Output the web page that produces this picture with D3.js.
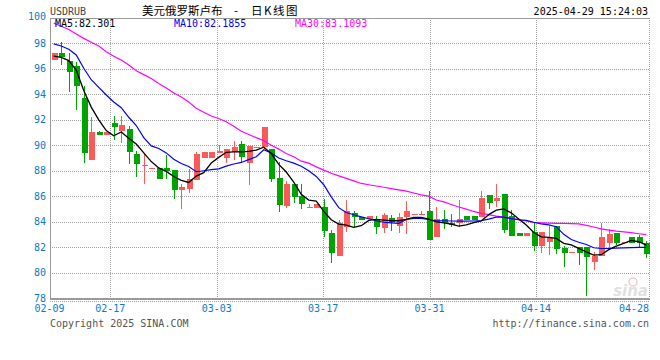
<!DOCTYPE html>
<html>
<head>
<meta charset="utf-8">
<script src="https://cdn.jsdelivr.net/npm/d3@7/dist/d3.min.js"></script>
<style>
  body { margin: 0; background: #fff; }
  svg { display: block; }
  .mono { font-family: "DejaVu Sans Mono", monospace; }
</style>
</head>
<body>
<div id="chart"></div>
<script>
// daily candles 2025-02-09 .. 2025-04-29
const dates = d3.timeDay.range(new Date(2025, 1, 9), new Date(2025, 3, 30));

const opens = [96.72, 97.24, 96.61, 96.22, 93.70, 88.86, 91.03, 90.82, 91.74, 91.11,
  91.27, 89.28, 88.36, 88.20, 88.23, 88.23, 88.05, 86.50, 86.60, 87.31,
  89.02, 89.02, 89.41, 89.02, 89.44, 90.09, 88.62, 89.75, 89.85, 89.70,
  87.42, 85.25, 86.95, 86.00, 85.10, 85.09, 85.17, 83.12, 81.32, 83.59,
  84.64, 84.38, 84.17, 84.17, 83.52, 84.25, 83.67, 84.33, 84.54, 84.54,
  84.83, 82.78, 84.17, 83.88, 83.86, 84.43, 84.43, 84.38, 86.08, 85.64,
  86.16, 84.46, 83.10, 82.89, 83.15, 82.10, 82.42, 83.65, 81.89, 81.50,
  81.97, 81.97, 80.84, 81.32, 82.29, 83.07, 82.34, 82.76, 82.76, 82.29];
const highs = [97.24, 98.10, 97.27, 96.53, 94.65, 92.24, 91.14, 91.03, 92.29, 92.29,
  91.53, 89.54, 89.30, 88.25, 88.23, 89.25, 88.05, 86.95, 88.15, 89.46,
  89.46, 89.46, 90.01, 89.70, 90.33, 90.33, 89.93, 89.83, 91.43, 89.70,
  88.70, 87.18, 86.95, 86.95, 85.41, 85.38, 85.74, 83.33, 84.12, 85.69,
  84.83, 84.38, 84.43, 84.43, 84.69, 84.51, 84.69, 85.61, 84.62, 84.83,
  86.40, 85.17, 84.90, 84.62, 85.69, 84.43, 84.43, 86.40, 86.08, 86.95,
  86.16, 84.90, 83.10, 83.10, 83.86, 83.18, 83.65, 83.65, 82.10, 81.58,
  81.97, 81.97, 81.58, 83.86, 83.41, 83.07, 82.42, 82.76, 82.94, 82.47];
const lows = [96.72, 96.32, 94.20, 92.76, 88.62, 88.86, 90.82, 90.82, 90.40, 90.20,
  88.52, 87.52, 86.95, 88.20, 87.37, 87.37, 85.80, 84.98, 86.24, 87.31,
  89.02, 89.02, 89.36, 88.62, 88.86, 88.62, 86.90, 89.75, 89.67, 87.10,
  84.77, 85.09, 85.48, 84.98, 85.10, 85.09, 82.81, 80.77, 81.32, 83.15,
  83.54, 84.12, 84.17, 83.04, 83.12, 83.28, 83.12, 82.99, 84.54, 84.54,
  82.55, 82.78, 83.41, 83.54, 83.54, 84.12, 84.12, 84.38, 85.01, 85.17,
  83.12, 82.89, 82.89, 82.89, 81.71, 81.50, 81.37, 81.45, 80.45, 81.50,
  80.58, 78.17, 80.19, 81.32, 81.76, 82.15, 82.34, 82.29, 81.89, 81.16];
const closes = [97.24, 96.95, 95.77, 94.67, 89.41, 91.03, 90.82, 91.03, 91.45, 91.56,
  89.49, 88.54, 88.46, 88.25, 87.37, 88.00, 86.50, 86.74, 87.34, 89.30,
  89.46, 89.46, 89.54, 89.70, 89.85, 89.07, 89.93, 89.83, 91.43, 87.37,
  85.32, 86.95, 85.95, 85.35, 85.16, 85.38, 83.28, 81.55, 83.86, 84.83,
  84.38, 84.12, 84.43, 83.59, 84.51, 83.94, 84.38, 84.83, 84.62, 84.62,
  82.55, 84.20, 83.86, 83.75, 84.20, 84.12, 84.12, 85.87, 85.48, 85.87,
  83.33, 82.89, 82.89, 83.10, 82.10, 83.18, 82.81, 81.84, 81.50, 81.58,
  81.50, 81.24, 81.32, 82.76, 83.02, 82.36, 82.42, 82.29, 82.29, 81.42];

const ma5 = [97.00, 96.90, 96.65, 95.90, 94.30, 93.00, 92.00, 91.15, 90.75, 91.05,
  90.55, 90.10, 89.40, 88.72, 88.22, 87.95, 87.55, 87.25, 87.08, 87.58,
  87.85, 88.60, 89.05, 89.45, 89.48, 89.48, 89.52, 89.62, 89.85, 89.35,
  88.50, 87.90, 87.10, 86.15, 85.69, 85.62, 84.80, 84.15, 83.80, 83.73,
  83.55, 83.68, 84.10, 84.17, 84.12, 84.07, 84.07, 84.17, 84.33, 84.33,
  84.20, 83.99, 83.90, 83.80, 83.65, 83.75, 83.93, 84.05, 84.55, 84.90,
  85.00, 84.69, 84.20, 83.73, 83.15, 82.80, 82.77, 82.68, 82.30, 82.18,
  81.90, 81.62, 81.37, 81.40, 81.80, 82.07, 82.30, 82.52, 82.42, 82.16];
const ma10 = [97.97, 97.80, 97.55, 97.10, 96.05, 95.15, 94.55, 93.95, 93.40, 92.95,
  92.20, 91.55, 90.60, 89.95, 89.75, 89.40, 88.90, 88.57, 88.33, 87.92,
  88.00, 88.08, 88.15, 88.36, 88.53, 88.65, 88.87, 89.10, 89.65, 89.40,
  89.00, 88.78, 88.60, 88.35, 88.00, 87.55, 86.90, 85.95, 85.10, 84.72,
  84.54, 84.38, 84.23, 84.07, 83.95, 83.91, 83.87, 84.17, 84.25, 84.25,
  84.17, 84.07, 84.07, 84.05, 84.04, 84.04, 84.05, 84.08, 84.20, 84.35,
  84.36, 84.24, 84.15, 84.10, 83.95, 83.83, 83.74, 83.60, 83.00, 82.60,
  82.38, 82.20, 81.95, 81.89, 81.89, 81.92, 81.94, 81.96, 81.97, 81.97];
const ma30 = [99.60, 99.35, 99.10, 98.75, 98.40, 98.10, 97.80, 97.35, 97.00, 96.70,
  96.30, 95.85, 95.55, 95.25, 94.85, 94.50, 94.10, 93.80, 93.40, 92.90,
  92.60, 92.30, 92.10, 91.85, 91.50, 91.10, 90.85, 90.60, 90.35, 90.00,
  89.70, 89.35, 89.10, 88.75, 88.60, 88.30, 88.05, 87.80, 87.60, 87.40,
  87.20, 87.00, 86.90, 86.80, 86.70, 86.60, 86.50, 86.40, 86.25, 86.10,
  86.00, 85.70, 85.55, 85.35, 85.15, 84.98, 84.80, 84.65, 84.55, 84.43,
  84.35, 84.28, 84.15, 84.05, 83.93, 83.90, 83.88, 83.87, 83.86, 83.85,
  83.82, 83.70, 83.58, 83.43, 83.33, 83.25, 83.20, 83.13, 83.05, 82.98];

const yTicks = [78, 80, 82, 84, 86, 88, 90, 92, 94, 96, 98, 100];
const xTickLabels = ['02-09', '02-17', '03-03', '03-17', '03-31', '04-14', '04-28'];
const maLabels = [
  { text: 'MA5:82.301', color: '#000', x: 55 },
  { text: 'MA10:82.1855', color: '#0000ff', x: 174 },
  { text: 'MA30:83.1093', color: '#ff00ff', x: 295 }
];
const titleParts = [
  { text: '美元俄罗斯卢布', x: 142, anchor: 'start', spacing: 0 },
  { text: '-', x: 236, anchor: 'middle', spacing: 0 },
  { text: '日K线图', x: 251, anchor: 'start', spacing: 1.5 }
];

const W = 660, H = 360;
const plotLeft = 50, plotRight = 650, plotTop = 18, plotBottom = 298;
const UP = '#fb5a5a', DOWN = '#00a400', LABEL = '#0b7ac8', GRID = '#a0a0a0';

const svg = d3.select('#chart').append('svg')
  .attr('width', W).attr('height', H)
  .style('background', '#fff');

const x = d3.scaleBand().domain(d3.range(dates.length)).range([plotLeft, plotRight]).paddingInner(0.2).paddingOuter(0.1);
const xTime = d3.scaleTime()
  .domain([new Date(2025, 1, 9), new Date(2025, 3, 28)])
  .range([49.5, 642.4]);
const y = d3.scaleLinear().domain([78, 100]).range([plotBottom, plotTop]);
const cx = i => x(i) + x.bandwidth() / 2;

const tickDates = xTickLabels.map(s => new Date(2025, +s.slice(0, 2) - 1, +s.slice(3)));

// grid
const grid = svg.append('g').attr('shape-rendering', 'crispEdges');
grid.selectAll('line.h')
  .data(yTicks.filter(v => v > 78 && v < 100))
  .join('line')
  .attr('x1', plotLeft).attr('x2', plotRight)
  .attr('y1', d => Math.round(y(d)) + 0.5).attr('y2', d => Math.round(y(d)) + 0.5)
  .attr('stroke', GRID).attr('stroke-dasharray', '1,1');
grid.selectAll('line.v')
  .data(tickDates.slice(1, -1))
  .join('line')
  .attr('x1', d => Math.round(xTime(d)) + 0.5).attr('x2', d => Math.round(xTime(d)) + 0.5)
  .attr('y1', plotTop).attr('y2', plotBottom)
  .attr('stroke', GRID).attr('stroke-dasharray', '1,1');
grid.append('line')
  .attr('x1', plotRight - 0.5).attr('x2', plotRight - 0.5).attr('y1', plotTop).attr('y2', plotBottom)
  .attr('stroke', GRID).attr('stroke-dasharray', '1,1');
grid.append('line')
  .attr('x1', plotLeft).attr('x2', plotRight).attr('y1', plotBottom + 3.5).attr('y2', plotBottom + 3.5)
  .attr('stroke', GRID).attr('stroke-dasharray', '1,1');

// frame
const frame = svg.append('g').attr('shape-rendering', 'crispEdges').attr('stroke', '#9a9a9a');
frame.append('line').attr('x1', plotLeft).attr('x2', plotRight).attr('y1', plotTop + 0.5).attr('y2', plotTop + 0.5);
frame.append('line').attr('x1', plotLeft + 0.5).attr('x2', plotLeft + 0.5).attr('y1', plotTop).attr('y2', plotBottom + 1);
frame.append('line').attr('x1', plotLeft).attr('x2', plotRight).attr('y1', plotBottom + 0.5).attr('y2', plotBottom + 0.5).attr('stroke-width', 2);

// watermark
const wm = svg.append('g').attr('opacity', 0.55);
wm.append('circle').attr('cx', 633).attr('cy', 282).attr('r', 4)
  .attr('fill', 'none').attr('stroke', '#f2a0a0').attr('stroke-width', 1.5);
wm.append('text').attr('x', 648).attr('y', 296).attr('text-anchor', 'end')
  .style('font-family', 'DejaVu Sans').style('font-size', '15px')
  .style('font-weight', 'bold').style('font-style', 'italic')
  .style('fill', '#c8c8c8').text('sina');

svg.append('clipPath').attr('id', 'plot')
  .append('rect').attr('x', plotLeft + 1).attr('y', plotTop + 1)
  .attr('width', plotRight - plotLeft - 1).attr('height', plotBottom - plotTop - 1);

// candles
const candles = d3.range(dates.length).map(i => ({
  i, o: opens[i], h: highs[i], l: lows[i], c: closes[i]
}));
const cg = svg.append('g').attr('clip-path', 'url(#plot)').attr('shape-rendering', 'crispEdges');
cg.selectAll('line.wick')
  .data(candles)
  .join('line')
  .attr('x1', d => Math.round(cx(d.i)) + 0.5).attr('x2', d => Math.round(cx(d.i)) + 0.5)
  .attr('y1', d => y(d.h)).attr('y2', d => y(d.l))
  .attr('stroke', d => d.c >= d.o ? UP : DOWN);
cg.selectAll('rect.body')
  .data(candles)
  .join('rect')
  .attr('x', d => Math.round(cx(d.i)) - 2.5)
  .attr('width', 6)
  .attr('y', d => y(Math.max(d.o, d.c)))
  .attr('height', d => Math.max(1, Math.abs(y(d.o) - y(d.c))))
  .attr('fill', d => d.c >= d.o ? UP : DOWN);

// moving averages
const line = d3.line().x((d, i) => cx(i)).y(d => y(d));
const mg = svg.append('g').attr('clip-path', 'url(#plot)').attr('fill', 'none');
[[ma30, '#ff00ff', 1.2], [ma10, '#0000ff', 1.2], [ma5, '#000', 1.3]].forEach(([arr, color, w]) => {
  mg.append('path').attr('d', line(arr)).attr('stroke', color).attr('stroke-width', w);
});

// y labels
svg.append('g').selectAll('text')
  .data(yTicks)
  .join('text')
  .attr('class', 'mono')
  .attr('x', 46).attr('y', d => d === 100 ? y(d) + 1.5 : y(d) + 3.5)
  .attr('text-anchor', 'end')
  .style('font-size', '10px').style('fill', LABEL)
  .text(d => d);

// x labels
svg.append('g').selectAll('text')
  .data(xTickLabels)
  .join('text')
  .attr('class', 'mono')
  .attr('x', (d, i) => i === xTickLabels.length - 1 ? 649 : xTime(tickDates[i]))
  .attr('y', 312)
  .attr('text-anchor', (d, i) => i === xTickLabels.length - 1 ? 'end' : 'middle')
  .style('font-size', '10px').style('fill', LABEL)
  .text(d => d);

// header
svg.append('text').attr('class', 'mono').attr('x', 50).attr('y', 15)
  .style('font-size', '10px').style('fill', '#444').text('USDRUB');
svg.append('g').selectAll('text')
  .data(titleParts)
  .join('text')
  .attr('x', d => d.x).attr('y', 15)
  .attr('text-anchor', d => d.anchor)
  .style('font-family', '"Noto Sans CJK SC", sans-serif').style('font-size', '11.5px')
  .style('letter-spacing', d => d.spacing + 'px')
  .style('fill', '#000').text(d => d.text);
svg.append('text').attr('class', 'mono').attr('x', 648).attr('y', 15)
  .attr('text-anchor', 'end').style('font-size', '10px').style('fill', '#000')
  .text('2025-04-29 15:24:03');
svg.append('g').selectAll('text')
  .data(maLabels)
  .join('text')
  .attr('class', 'mono')
  .attr('x', d => d.x).attr('y', 27)
  .style('font-size', '10px').style('fill', d => d.color)
  .text(d => d.text);

// footer
svg.append('text').attr('class', 'mono').attr('x', 50).attr('y', 327)
  .style('font-size', '10px').style('fill', '#555').text('Copyright 2025 SINA.COM');
svg.append('text').attr('class', 'mono').attr('x', 649).attr('y', 327)
  .attr('text-anchor', 'end').style('font-size', '10px').style('fill', '#555')
  .text('http://finance.sina.com.cn');
</script>
</body>
</html>
